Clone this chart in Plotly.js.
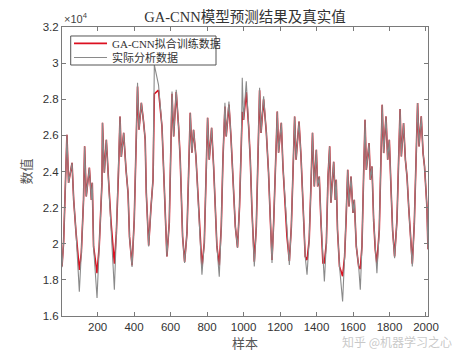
<!DOCTYPE html>
<html>
<head>
<meta charset="utf-8">
<script src="https://cdn.plot.ly/plotly-3.0.1.min.js"></script>
<style>html,body{margin:0;padding:0;background:#fff;}#chart{width:474px;height:355px;}</style>
</head>
<body>
<div id="chart"></div>
<script>
// sample index of key points
var sampleIdx = [5,14,32,41,60,69,82,100,111,123,129,138,155,166,171,178,197,209,224,227,237,248,260,274,292,303,315,323,330,343,356,367,375,389,401,412,419,427,440,452,461,467,480,493,504,511,534,553,562,580,593,608,617,631,644,653,666,677,690,699,708,717,726,739,745,754,767,772,785,796,803,812,825,836,845,854,867,878,887,898,905,920,931,938,945,955,967,978,988,993,1000,1015,1028,1037,1046,1059,1070,1083,1088,1096,1110,1125,1137,1147,1156,1165,1176,1185,1192,1207,1216,1227,1238,1251,1262,1271,1280,1288,1304,1315,1326,1338,1348,1360,1370,1378,1388,1399,1406,1415,1424,1435,1443,1454,1463,1472,1479,1494,1503,1508,1515,1526,1543,1554,1562,1571,1578,1589,1600,1607,1618,1631,1640,1649,1658,1666,1673,1688,1695,1704,1713,1722,1731,1744,1753,1760,1768,1781,1790,1799,1808,1817,1828,1841,1850,1858,1865,1877,1887,1896,1905,1914,1925,1936,1945,1954,1962,1974,1984,1992,2005,2011];

// actual data (实际分析数据)
var actualVals = [18700,20120,26030,23370,24480,22430,20600,17350,19500,22430,25390,22620,24210,22430,23370,19850,17000,19850,23370,26700,23930,25760,23540,21160,17450,20600,24090,27050,24810,26140,24090,22820,20380,18720,21320,26140,28910,26310,27800,26750,25760,22820,19850,22060,23540,29900,28800,26490,24260,19290,21160,28430,25940,28530,26490,24650,20400,18940,20600,23720,27250,25040,26310,24830,23720,21710,19110,18280,20050,24090,26980,24650,26420,24280,21880,19850,18180,20950,24650,27810,25940,27880,25940,24650,22820,20950,19770,22060,25590,29190,26860,28990,26490,24650,21880,18740,20950,26140,28640,26140,28160,26140,23930,21320,18940,21160,24650,27320,25040,26700,24280,22430,20400,18830,20950,23930,27050,24650,26770,24830,22430,19290,18280,20220,23360,26140,23170,25200,23170,23720,21320,18940,17910,20050,23720,25390,22270,24540,22430,23540,20770,18740,16800,19290,21320,24090,22060,23720,21700,22430,19850,18740,17450,19850,23720,26860,24090,25570,23540,24280,21320,19660,18370,20770,24650,27700,25020,27050,24650,25760,23170,20770,19200,21320,24650,27460,24830,26680,24650,23720,22060,20400,18740,21140,24090,27790,25390,27050,25020,24280,22060,19700];

// GA-CNN fitted training data (GA-CNN拟合训练数据)
var fittedVals = [18750,20120,26030,23370,24480,22430,20600,18550,19500,22430,25390,22620,24210,22430,23370,19850,18370,19850,23370,26700,23930,25760,23540,21160,18900,20600,24090,27050,24810,26140,24090,22820,20380,18800,21320,26140,28700,26310,27800,26750,25760,22820,19900,22060,23540,28300,28500,26490,24260,19300,21160,28300,25940,28400,26490,24650,20400,19000,20600,23720,27250,25040,26310,24830,23720,21710,19110,18700,20050,24090,26980,24650,26420,24280,21880,19850,18800,20950,24650,27600,25940,27700,25940,24650,22820,20950,19800,22060,25590,27300,26860,28400,26490,24650,21880,19000,20950,26140,28500,26140,28000,26140,23930,21320,19100,21160,24650,27320,25040,26700,24280,22430,20400,19050,20950,23930,27050,24650,26770,24830,22430,19290,19100,20220,23360,26140,23170,25200,23170,23720,21320,18940,18940,20050,23720,25390,22270,24540,22430,23540,20770,18740,18200,19290,21320,24090,22060,23720,21700,22430,19850,18740,18600,19850,23720,26860,24090,25570,23540,24280,21320,19660,18900,20770,24650,27700,25020,27050,24650,25760,23170,20770,19300,21320,24650,27460,24830,26680,24650,23720,22060,20400,18900,21140,24090,27790,25390,27050,25020,24280,22060,19700];

var xTickVals = [200,400,600,800,1000,1200,1400,1600,1800,2000];
var yTickVals = [16000,18000,20000,22000,24000,26000,28000,30000,32000];
var yTickText = ['1.6','1.8','2','2.2','2.4','2.6','2.8','3','3.2'];

var seriesNames = ['GA-CNN拟合训练数据', '实际分析数据'];
var seriesColors = ['#dc1020', '#8a8a8a'];

var serif = '"Liberation Serif", "Noto Sans CJK SC", serif';
var sans = '"Liberation Sans", Arial, "Noto Sans CJK SC", sans-serif';
var cjk = '"Noto Sans CJK SC", sans-serif';

var traces = [
  {x: sampleIdx, y: fittedVals, type: 'scatter', mode: 'lines', name: seriesNames[0],
   line: {color: seriesColors[0], width: 1.6}},
  {x: sampleIdx, y: actualVals, type: 'scatter', mode: 'lines', name: seriesNames[1],
   line: {color: seriesColors[1], width: 1.1}}
];

var axisCommon = {
  showgrid: false, zeroline: false, showline: true, linecolor: '#7a7a7a', linewidth: 1,
  mirror: 'ticks', ticks: 'inside', ticklen: 4, tickcolor: '#7a7a7a', tickwidth: 1,
  tickfont: {family: sans, size: 11.5, color: '#333'}
};

// legend box (paper coordinates)
var lg = {x0: 0.0238, x1: 0.4208, y0: 0.8685, y1: 0.9689, lx0: 0.0328, lx1: 0.123, tx: 0.131, rows: [0.9430, 0.8945]};

var layout = {
  width: 474, height: 355,
  margin: {l: 62, r: 46, t: 27, b: 39},
  paper_bgcolor: '#ffffff', plot_bgcolor: '#ffffff',
  showlegend: false,
  title: {text: 'GA-CNN模型预测结果及真实值', font: {family: serif, size: 14.5, color: '#333'},
          xref: 'paper', x: 0.5, xanchor: 'center', yref: 'container', y: 0.952, yanchor: 'middle'},
  xaxis: Object.assign({}, axisCommon, {range: [5, 2011], tickvals: xTickVals,
          title: {text: '样本', font: {family: cjk, size: 13, color: '#555'}, standoff: 5}}),
  yaxis: Object.assign({}, axisCommon, {range: [16000, 32000], tickvals: yTickVals, ticktext: yTickText,
          title: {text: '数值', font: {family: cjk, size: 13, color: '#555'}, standoff: 8}}),
  shapes: [
    {type: 'rect', xref: 'paper', yref: 'paper', x0: lg.x0, x1: lg.x1, y0: lg.y0, y1: lg.y1,
     fillcolor: '#ffffff', line: {color: '#555', width: 1}, layer: 'above'},
    {type: 'line', xref: 'paper', yref: 'paper', x0: lg.lx0, x1: lg.lx1, y0: lg.rows[0], y1: lg.rows[0],
     line: {color: seriesColors[0], width: 1.8}, layer: 'above'},
    {type: 'line', xref: 'paper', yref: 'paper', x0: lg.lx0, x1: lg.lx1, y0: lg.rows[1], y1: lg.rows[1],
     line: {color: seriesColors[1], width: 1.1}, layer: 'above'}
  ],
  annotations: [
    {text: seriesNames[0], xref: 'paper', yref: 'paper', x: lg.tx, y: lg.rows[0], xanchor: 'left', yanchor: 'middle',
     showarrow: false, font: {family: serif, size: 11, color: '#333'}},
    {text: seriesNames[1], xref: 'paper', yref: 'paper', x: lg.tx, y: lg.rows[1], xanchor: 'left', yanchor: 'middle',
     showarrow: false, font: {family: serif, size: 11, color: '#333'}},
    {text: '×10<sup>4</sup>', xref: 'paper', yref: 'paper', x: 0, y: 1, xanchor: 'left', yanchor: 'bottom',
     showarrow: false, font: {family: sans, size: 11, color: '#444'}},
    {text: '知乎 @机器学习之心', xref: 'paper', yref: 'paper', x: 1.07, y: -0.052, xanchor: 'right', yanchor: 'top',
     showarrow: false, font: {family: cjk, size: 12, color: 'rgba(190,190,190,0.85)'}}
  ]
};

Plotly.newPlot('chart', traces, layout, {staticPlot: true, displayModeBar: false});
</script>
</body>
</html>
